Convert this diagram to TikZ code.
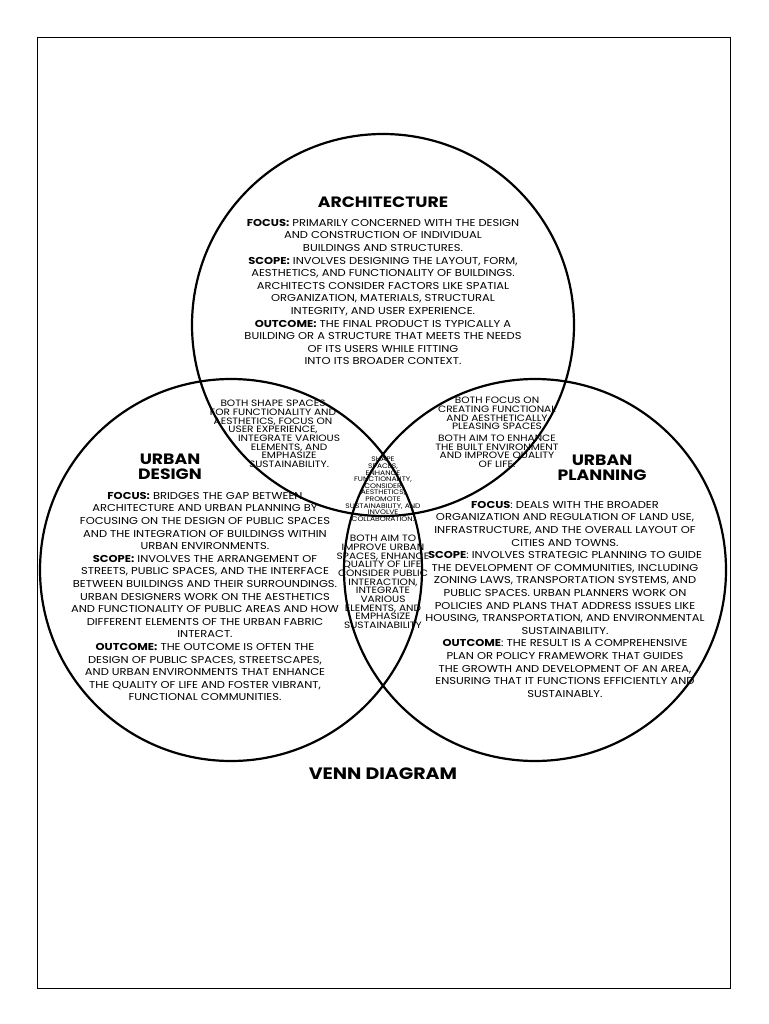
\documentclass[tikz,border=0pt]{standalone}
\usepackage{fontspec}
\setmainfont{Poppins}[FakeStretch=1.15]
\begin{document}
\begin{tikzpicture}[x=1pt,y=-1pt,
  circ/.style={draw=black,line width=2.2pt},
  body/.style={align=center,font=\fontsize{10}{12.6}\selectfont,inner sep=0pt},
  lap/.style={align=center,font=\fontsize{9.2}{8.7}\selectfont,inner sep=0pt},
  tiny/.style={align=center,font=\fontsize{6.6}{6.6}\selectfont,inner sep=0pt},
  ttl/.style={align=center,font=\fontsize{15}{15}\selectfont\bfseries,inner sep=0pt}]
\useasboundingbox (0,0) rectangle (768,1024);
\draw[line width=0.8pt] (37,37) rectangle (730,988);
\draw[circ] (383,325) circle (191);
\draw[circ] (231,570) circle (191);
\draw[circ] (535,570) circle (191);
\node[ttl] (ta) at (383,202) {ARCHITECTURE};
\node[body,anchor=north] (a) at (383,219) {\textbf{FOCUS:} PRIMARILY CONCERNED WITH THE DESIGN\\AND CONSTRUCTION OF INDIVIDUAL\\BUILDINGS AND STRUCTURES.\\\textbf{SCOPE:} INVOLVES DESIGNING THE LAYOUT, FORM,\\AESTHETICS, AND FUNCTIONALITY OF BUILDINGS.\\ARCHITECTS CONSIDER FACTORS LIKE SPATIAL\\ORGANIZATION, MATERIALS, STRUCTURAL\\INTEGRITY, AND USER EXPERIENCE.\\\textbf{OUTCOME:} THE FINAL PRODUCT IS TYPICALLY A\\BUILDING OR A STRUCTURE THAT MEETS THE NEEDS\\OF ITS USERS WHILE FITTING\\INTO ITS BROADER CONTEXT.};
\node[ttl] (td) at (170,467) {URBAN\\DESIGN};
\node[body,anchor=north] (d) at (205,492) {\textbf{FOCUS:} BRIDGES THE GAP BETWEEN\\ARCHITECTURE AND URBAN PLANNING BY\\FOCUSING ON THE DESIGN OF PUBLIC SPACES\\AND THE INTEGRATION OF BUILDINGS WITHIN\\URBAN ENVIRONMENTS.\\\textbf{SCOPE:} INVOLVES THE ARRANGEMENT OF\\STREETS, PUBLIC SPACES, AND THE INTERFACE\\BETWEEN BUILDINGS AND THEIR SURROUNDINGS.\\URBAN DESIGNERS WORK ON THE AESTHETICS\\AND FUNCTIONALITY OF PUBLIC AREAS AND HOW\\DIFFERENT ELEMENTS OF THE URBAN FABRIC\\INTERACT.\\\textbf{OUTCOME:} THE OUTCOME IS OFTEN THE\\DESIGN OF PUBLIC SPACES, STREETSCAPES,\\AND URBAN ENVIRONMENTS THAT ENHANCE\\THE QUALITY OF LIFE AND FOSTER VIBRANT,\\FUNCTIONAL COMMUNITIES.};
\node[ttl] (tp) at (602,468) {URBAN\\PLANNING};
\node[body,anchor=north] (p) at (565,501) {\textbf{FOCUS}: DEALS WITH THE BROADER\\ORGANIZATION AND REGULATION OF LAND USE,\\INFRASTRUCTURE, AND THE OVERALL LAYOUT OF\\CITIES AND TOWNS.\\\textbf{SCOPE}: INVOLVES STRATEGIC PLANNING TO GUIDE\\THE DEVELOPMENT OF COMMUNITIES, INCLUDING\\ZONING LAWS, TRANSPORTATION SYSTEMS, AND\\PUBLIC SPACES. URBAN PLANNERS WORK ON\\POLICIES AND PLANS THAT ADDRESS ISSUES LIKE\\HOUSING, TRANSPORTATION, AND ENVIRONMENTAL\\SUSTAINABILITY.\\\textbf{OUTCOME}: THE RESULT IS A COMPREHENSIVE\\PLAN OR POLICY FRAMEWORK THAT GUIDES\\THE GROWTH AND DEVELOPMENT OF AN AREA,\\ENSURING THAT IT FUNCTIONS EFFICIENTLY AND\\SUSTAINABLY.};
\node[lap,anchor=north] (ad) at (273,400) {BOTH SHAPE SPACES\\FOR FUNCTIONALITY AND\\AESTHETICS, FOCUS ON\\USER EXPERIENCE,\\\hspace*{3.5em}INTEGRATE VARIOUS\\\hspace*{3.5em}ELEMENTS, AND\\\hspace*{3.5em}EMPHASIZE\\\hspace*{3.5em}SUSTAINABILITY.};
\node[lap,anchor=north] (ap) at (497,397) {BOTH FOCUS ON\\CREATING FUNCTIONAL\\AND AESTHETICALLY\\PLEASING SPACES\\[3pt]BOTH AIM TO ENHANCE\\THE BUILT ENVIRONMENT\\AND IMPROVE QUALITY\\OF LIFE.};
\node[tiny,anchor=north] (c) at (383,457) {SHAPE\\SPACES,\\ENHANCE\\FUNCTIONALITY,\\CONSIDER\\AESTHETICS,\\PROMOTE\\SUSTAINABILITY, AND\\INVOLVE\\COLLABORATION.};
\node[lap,anchor=north] (dp) at (383,535) {BOTH AIM TO\\IMPROVE URBAN\\SPACES, ENHANCE\\QUALITY OF LIFE,\\CONSIDER PUBLIC\\INTERACTION,\\INTEGRATE\\VARIOUS\\ELEMENTS, AND\\EMPHASIZE\\SUSTAINABILITY};
\node[ttl,font=\fontsize{16.5}{17}\selectfont\bfseries] (v) at (383,774) {VENN DIAGRAM};
\end{tikzpicture}
\end{document}
